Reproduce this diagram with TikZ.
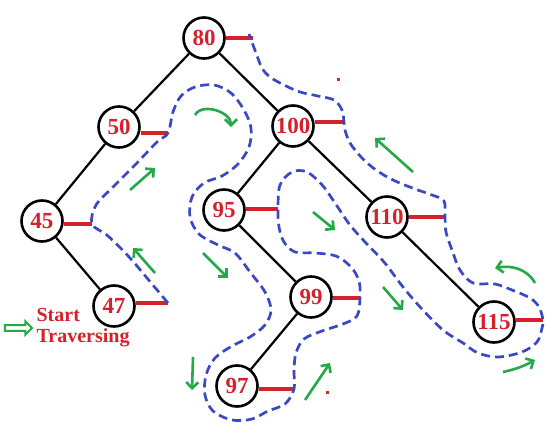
\documentclass[tikz,border=0pt]{standalone}
\usepackage{fontspec}
\setmainfont{Liberation Serif}
\usepackage{tikz}
\usetikzlibrary{arrows.meta,positioning,shapes.arrows}
\definecolor{keyred}{RGB}{214,32,44}
\definecolor{walkblue}{RGB}{58,72,196}
\definecolor{walkgreen}{RGB}{36,168,72}

\begin{document}
\begin{tikzpicture}[x=1pt, y=-1pt, >={Straight Barb[length=6pt,width=12pt]}]
\tikzstyle{bstnode}=[circle,
                     draw=black,
                     line width=2.6pt,
                     minimum size=41pt,
                     inner sep=0pt,
                     text=keyred,
                     font=\fontsize{23}{23}\selectfont\bfseries]
\tikzstyle{branch}=[draw=black, line width=2.2pt]
\tikzstyle{stub}=[draw=keyred, line width=3.2pt]
\tikzstyle{walkline}=[draw=walkblue, line width=2.7pt,
                      dash pattern=on 9pt off 5pt]
\tikzstyle{walkarrow}=[draw=walkgreen, line width=2.6pt, ->]
\tikzstyle{remark}=[text=keyred, align=left, inner sep=0pt,
                    font=\fontsize{20}{21}\selectfont\bfseries]

\useasboundingbox (0,0) rectangle (550,442);

\node[bstnode] (k80) at (204,38) {80};
\node[bstnode] (k50) at (119,127) {50};
\node[bstnode] (k100) at (293,126) {100};
\node[bstnode] (k45) at (42,221) {45};
\node[bstnode] (k95) at (224,210) {95};
\node[bstnode] (k110) at (387,217) {110};
\node[bstnode] (k47) at (114,306) {47};
\node[bstnode] (k99) at (311,297) {99};
\node[bstnode] (k97) at (237,386) {97};
\node[bstnode] (k115) at (494,322) {115};

\node[single arrow, draw=walkgreen, line width=2pt, inner sep=1.5pt,
  minimum height=27pt, minimum width=13pt, single arrow head extend=3pt]
  (startarrow) at (17,328) {};
\node[remark, right=3pt of startarrow] (starttext) {Start\\Traversing};

\coordinate (t80) at (253,38);
\coordinate (t50) at (168,133);
\coordinate (t100) at (344,122);
\coordinate (t45) at (92,224);
\coordinate (t95) at (278,209);
\coordinate (t110) at (445,217);
\coordinate (t47) at (168,303);
\coordinate (t99) at (360,298);
\coordinate (t97) at (294,389);
\coordinate (t115) at (543,320);

\path[branch]
(k80) edge (k50)
(k80) edge (k100)
(k50) edge (k45)
(k45) edge (k47)
(k100) edge (k95)
(k100) edge (k110)
(k95) edge (k99)
(k99) edge (k97)
(k110) edge (k115);

\draw[stub] (t80 -| k80.east) -- (t80);
\draw[stub] (t50 -| k50.east) -- (t50);
\draw[stub] (t100 -| k100.east) -- (t100);
\draw[stub] (t45 -| k45.east) -- (t45);
\draw[stub] (t95 -| k95.east) -- (t95);
\draw[stub] (t110 -| k110.east) -- (t110);
\draw[stub] (t47 -| k47.east) -- (t47);
\draw[stub] (t99 -| k99.east) -- (t99);
\draw[stub] (t97 -| k97.east) -- (t97);
\draw[stub] (t115 -| k115.east) -- (t115);

\draw[walkline] plot[smooth, tension=0.55] coordinates {
  (t47) (152,284) (130,258) (108,236) (t45) (96,205) (112,188) (135,165)
  (157,142) (t50) (173,112) (181,96) (195,87) (214,85) (231,93) (244,110)
  (251,128) (249,147) (238,164) (222,176) (204,183) (192,197) (190,217)
  (199,234) (218,245) (235,253) (250,272) (265,292) (271,310) (265,325)
  (250,337) (232,346) (215,358) (206,375) (205,395) (213,411) (232,420)
  (252,419) (268,411) (285,404) (t97) (294,370) (296,353) (304,339)
  (322,331) (343,324) (357,316) (t99) (359,281) (351,267) (336,256)
  (315,253) (295,252) (284,242) (279,227) (t95) (280,185) (292,172)
  (307,172) (323,186) (337,206) (350,225) (365,242) (384,262) (403,287)
  (421,308) (443,330) (463,343) (478,353) (498,357) (522,352) (537,342)
  (542,328) (t115) (539,307) (530,298) (512,290) (495,284) (473,283)
  (460,270) (452,250) (446,232) (t110) (444,201) (432,195) (415,189)
  (393,180) (376,170) (362,158) (350,143) (345,130) (t100) (342,110)
  (334,100) (318,96) (300,92) (284,85) (270,77) (262,68) (256,53) (249,34)};

\draw[walkarrow] (195,115) to[out=60, in=90] (231,127);
\draw[walkarrow] (130,190) -- (155,168);
\draw[walkarrow] (155,273) -- (133,248);
\draw[walkarrow] (203,253) -- (228,278);
\draw[walkarrow] (313,212) -- (335,230);
\draw[walkarrow] (193,357) -- (192,390);
\draw[walkarrow] (305,400) -- (330,363);
\draw[walkarrow] (383,287) -- (403,310);
\draw[walkarrow] (503,372) to[bend right=8] (535,360);
\draw[walkarrow] (535,283) to[out=120, in=10] (495,268);
\draw[walkarrow] (413,172) -- (375,138);

\fill[keyred] (336.5,77.5) rectangle ++(3,3);
\fill[keyred] (325.5,390.5) rectangle ++(3,3);
\end{tikzpicture}
\end{document}
